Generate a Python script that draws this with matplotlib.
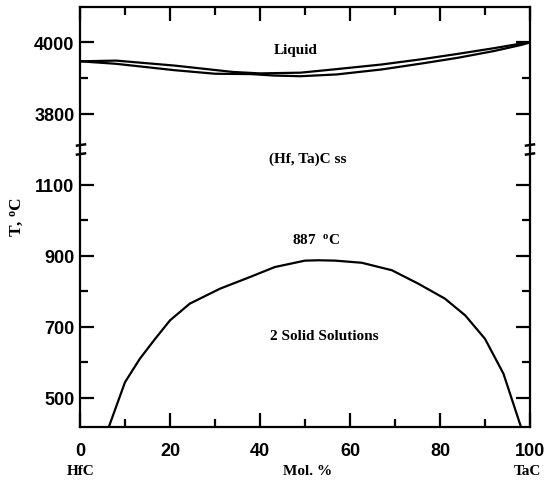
import matplotlib.pyplot as plt
from matplotlib.lines import Line2D
import numpy as np

# composition, mol. % TaC
liq_x = [0, 8, 21, 34, 40, 49, 57, 67, 76, 84, 92, 98, 100]
liq_t = [3947, 3949, 3935, 3917, 3913, 3915, 3925, 3938, 3953, 3968, 3984, 3997, 4000]
sol_x = [0, 8, 21, 30, 38, 43, 49, 57, 67, 76, 84, 92, 98, 100]
sol_t = [3947, 3940, 3922, 3912, 3911, 3907, 3905, 3910, 3924, 3941, 3957, 3976, 3993, 4000]

# miscibility gap of the solid solution
gap_x = [6.4, 10, 13.3, 16.7, 20, 24.4, 31.1, 37.8, 43.3, 50, 53, 56.7, 62.6, 69.3,
         75.2, 81.1, 85.6, 90, 94.1, 98]
gap_t = [418, 544, 610, 666, 718, 765, 807, 840, 868, 886, 887, 886, 880, 859,
         821, 779, 732, 666, 568, 418]

x_major = [0, 20, 40, 60, 80, 100]
x_minor = [10, 30, 50, 70, 90]
top_major = [3800, 4000]
top_minor = [3900]
bot_major = [500, 700, 900, 1100]
bot_minor = [600, 800, 1000]

plt.rcParams['mathtext.fontset'] = 'custom'
plt.rcParams['mathtext.rm'] = 'Liberation Serif:bold'
plt.rcParams['mathtext.it'] = 'Liberation Serif:bold'

serif = dict(family='Liberation Serif', weight='bold')
tickfont = dict(family='Liberation Sans', weight='bold', size=13)

fig = plt.figure(figsize=(5.5, 4.85), dpi=100)
L, W = 80 / 550, 450 / 550
ax_top = fig.add_axes([L, 1 - 150 / 485, W, 142 / 485])
ax_bot = fig.add_axes([L, 1 - 428 / 485, W, 278 / 485])

lw = 1.6
ax_top.plot(liq_x, liq_t, color='black', lw=lw)
ax_top.plot(sol_x, sol_t, color='black', lw=lw)
ax_bot.plot(gap_x, gap_t, color='black', lw=lw)

ax_top.set_ylim(3700, 4100)
ax_bot.set_ylim(418, 1200)

for ax in (ax_top, ax_bot):
    ax.set_xlim(0, 100)
    for s in ax.spines.values():
        s.set_linewidth(1.6)
    ax.set_xticks(x_major)
    ax.set_xticks(x_minor, minor=True)
    ax.tick_params(which='both', direction='in', width=1.6, left=True, right=True)
    ax.tick_params(which='major', length=10)
    ax.tick_params(which='minor', length=6)

ax_top.spines['bottom'].set_visible(False)
ax_bot.spines['top'].set_visible(False)
ax_top.tick_params(which='both', top=True, bottom=False, labelbottom=False)
ax_bot.tick_params(which='both', top=False, bottom=True)

ax_top.set_yticks(top_major)
ax_top.set_yticks(top_minor, minor=True)
ax_bot.set_yticks(bot_major)
ax_bot.set_yticks(bot_minor, minor=True)

ax_top.tick_params(axis='y', pad=4)
ax_bot.tick_params(axis='y', pad=4)
ax_bot.tick_params(axis='x', pad=11)
for ax in (ax_top, ax_bot):
    for lab in ax.get_xticklabels() + ax.get_yticklabels():
        lab.set_fontproperties(tickfont)

# axis break marks
for x0, x1 in ((77, 85), (526, 534)):
    for yp in (146, 155):
        fig.add_artist(Line2D([x0 / 550, x1 / 550],
                              [1 - (yp + 0.6) / 485, 1 - (yp - 0.6) / 485],
                              color='black', lw=1.8))

ax_top.text(48, 3980, 'Liquid', ha='center', va='center', size=11, **serif)
ax_bot.text(50.7, 1173, '(Hf, Ta)C ss', ha='center', va='center', size=11, **serif)
ax_bot.text(52.4, 948, r'887  $^{\mathrm{o}}$C', ha='center', va='center', size=11, **serif)
ax_bot.text(54.2, 675, '2 Solid Solutions', ha='center', va='center', size=11, **serif)

fig.text(17 / 550, 1 - 217 / 485, r'T, $^{\mathrm{o}}$C', rotation=90,
         ha='center', va='center', size=12.5, **serif)
fig.text(81 / 550, 1 - 472 / 485, 'HfC', ha='center', va='center', size=11, **serif)
fig.text(308 / 550, 1 - 472 / 485, 'Mol. %', ha='center', va='center', size=11, **serif)
fig.text(527 / 550, 1 - 472 / 485, 'TaC', ha='center', va='center', size=11, **serif)

fig.savefig('out.png', dpi=100)
